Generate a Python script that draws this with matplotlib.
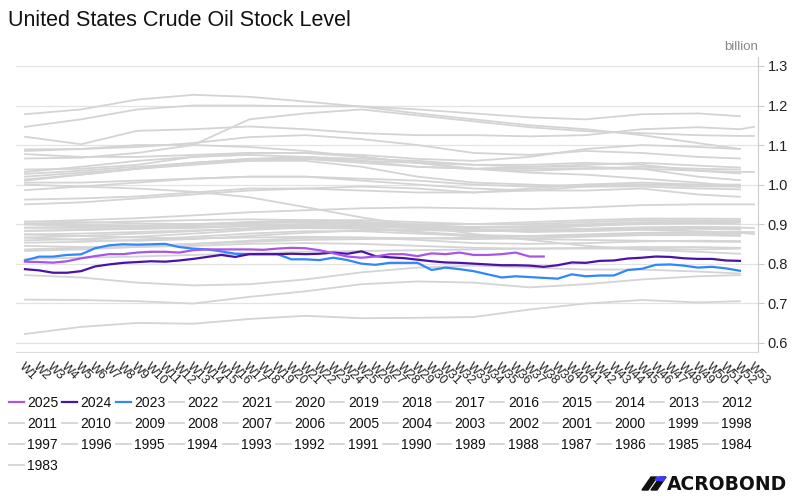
import matplotlib
matplotlib.use("Agg")
import matplotlib.pyplot as plt
from matplotlib.patches import Polygon

plt.rcParams['font.family'] = ['Liberation Sans', 'DejaVu Sans']

# ---------------- data ----------------
weeks = list(range(1, 54))
week_labels = [f"W{w}" for w in weeks]

y2025 = [0.805, 0.804, 0.8025, 0.806, 0.8135, 0.819, 0.824, 0.824, 0.828, 0.830,
         0.830, 0.828, 0.834, 0.836, 0.836, 0.836, 0.836, 0.835, 0.838, 0.840,
         0.839, 0.834, 0.826, 0.818, 0.815, 0.818, 0.824, 0.824, 0.819, 0.826,
         0.824, 0.828, 0.822, 0.822, 0.824, 0.828, 0.818, 0.818]
y2024 = [0.786, 0.783, 0.777, 0.777, 0.781, 0.793, 0.798, 0.802, 0.804, 0.806,
         0.805, 0.808, 0.812, 0.817, 0.822, 0.817, 0.824, 0.824, 0.824, 0.825,
         0.824, 0.825, 0.828, 0.825, 0.831, 0.819, 0.816, 0.814, 0.810, 0.806,
         0.803, 0.802, 0.800, 0.798, 0.796, 0.796, 0.795, 0.792, 0.796, 0.803,
         0.802, 0.807, 0.808, 0.813, 0.815, 0.818, 0.817, 0.8135, 0.812, 0.812,
         0.808, 0.807]
y2023 = [0.808, 0.8177, 0.8177, 0.822, 0.8236, 0.839, 0.8464, 0.849, 0.848, 0.849,
         0.850, 0.842, 0.838, 0.836, 0.831, 0.825, 0.824, 0.824, 0.824, 0.811,
         0.811, 0.809, 0.815, 0.809, 0.800, 0.797, 0.802, 0.802, 0.802, 0.784,
         0.790, 0.786, 0.781, 0.773, 0.765, 0.768, 0.766, 0.764, 0.762, 0.773,
         0.768, 0.770, 0.770, 0.784, 0.787, 0.797, 0.798, 0.795, 0.790, 0.792,
         0.788, 0.782]

# gray years: values read at every fourth week (W1, W5, ... W49, W52) plus W53 where present
sparse_weeks = [1, 5, 9, 13, 17, 21, 25, 29, 33, 37, 41, 45, 49, 52]
g2022 = [1.000, 0.995, 0.990, 0.982, 0.968, 0.943, 0.917, 0.895, 0.875, 0.860, 0.845, 0.835, 0.830, 0.825]
g2021 = [1.085, 1.090, 1.100, 1.100, 1.095, 1.085, 1.070, 1.055, 1.040, 1.030, 1.025, 1.015, 1.005, 0.995]
g2020 = [1.066, 1.068, 1.080, 1.100, 1.165, 1.180, 1.190, 1.175, 1.160, 1.145, 1.135, 1.130, 1.125, 1.123]
g2019 = [1.089, 1.090, 1.095, 1.105, 1.120, 1.125, 1.115, 1.100, 1.080, 1.075, 1.085, 1.080, 1.070, 1.066]
g2018 = [1.077, 1.070, 1.070, 1.075, 1.080, 1.080, 1.075, 1.065, 1.060, 1.070, 1.090, 1.100, 1.095, 1.090]
g2017 = [1.178, 1.190, 1.215, 1.227, 1.222, 1.210, 1.197, 1.180, 1.165, 1.150, 1.140, 1.125, 1.105, 1.090]
g2016 = [1.146, 1.165, 1.190, 1.200, 1.200, 1.198, 1.198, 1.190, 1.180, 1.170, 1.165, 1.178, 1.180, 1.173]
g2015 = [1.121, 1.102, 1.136, 1.140, 1.147, 1.140, 1.130, 1.125, 1.125, 1.122, 1.125, 1.140, 1.145, 1.140]
g2014 = [1.038, 1.040, 1.050, 1.070, 1.075, 1.070, 1.060, 1.045, 1.040, 1.045, 1.050, 1.055, 1.048, 1.043]
g2013 = [1.032, 1.045, 1.060, 1.070, 1.080, 1.080, 1.070, 1.055, 1.040, 1.035, 1.040, 1.045, 1.040, 1.038]
g2012 = [1.013, 1.025, 1.040, 1.055, 1.065, 1.070, 1.065, 1.060, 1.050, 1.050, 1.055, 1.050, 1.035, 1.028]
g2011 = [1.027, 1.035, 1.045, 1.055, 1.060, 1.060, 1.045, 1.020, 1.005, 1.000, 0.995, 0.995, 0.990, 0.988]
g2010 = [1.020, 1.030, 1.040, 1.050, 1.060, 1.065, 1.060, 1.055, 1.050, 1.045, 1.045, 1.040, 1.020, 1.011]
g2009 = [1.010, 1.025, 1.040, 1.055, 1.065, 1.065, 1.055, 1.045, 1.040, 1.040, 1.040, 1.040, 1.035, 1.032]
g2008 = [0.962, 0.965, 0.970, 0.980, 0.990, 0.990, 0.985, 0.980, 0.980, 0.990, 1.000, 1.005, 1.000, 0.995]
g2007 = [0.986, 0.995, 1.005, 1.015, 1.020, 1.020, 1.010, 1.000, 0.990, 0.985, 0.985, 0.990, 0.975, 0.969]
g2006 = [1.005, 1.005, 1.010, 1.015, 1.020, 1.020, 1.015, 1.010, 1.000, 0.995, 1.000, 1.000, 0.995, 0.995]
g2005 = [0.950, 0.955, 0.965, 0.975, 0.985, 0.990, 0.995, 0.990, 0.980, 0.985, 0.995, 1.000, 1.000, 1.000]
g2004 = [0.906, 0.910, 0.915, 0.922, 0.930, 0.935, 0.940, 0.942, 0.940, 0.938, 0.942, 0.948, 0.950, 0.950]
g2003 = [0.866, 0.860, 0.858, 0.862, 0.870, 0.878, 0.884, 0.885, 0.884, 0.888, 0.895, 0.902, 0.905, 0.905]
g2002 = [0.859, 0.862, 0.868, 0.876, 0.885, 0.892, 0.894, 0.890, 0.885, 0.880, 0.882, 0.886, 0.888, 0.886]
g2001 = [0.832, 0.836, 0.842, 0.850, 0.858, 0.865, 0.866, 0.864, 0.862, 0.864, 0.868, 0.872, 0.872, 0.870]
g2000 = [0.845, 0.842, 0.842, 0.845, 0.850, 0.852, 0.850, 0.845, 0.840, 0.838, 0.838, 0.838, 0.836, 0.838]
g1999 = [0.891, 0.893, 0.895, 0.898, 0.900, 0.898, 0.892, 0.880, 0.868, 0.862, 0.860, 0.858, 0.856, 0.855]
g1998 = [0.866, 0.870, 0.876, 0.882, 0.890, 0.895, 0.895, 0.890, 0.884, 0.882, 0.884, 0.886, 0.882, 0.878]
g1997 = [0.853, 0.855, 0.860, 0.868, 0.876, 0.882, 0.882, 0.876, 0.870, 0.868, 0.872, 0.876, 0.876, 0.874]
g1996 = [0.874, 0.870, 0.866, 0.864, 0.866, 0.868, 0.866, 0.860, 0.852, 0.850, 0.852, 0.856, 0.858, 0.857]
g1995 = [0.899, 0.895, 0.892, 0.893, 0.895, 0.895, 0.890, 0.880, 0.872, 0.870, 0.872, 0.876, 0.876, 0.874]
g1994 = [0.900, 0.898, 0.896, 0.900, 0.905, 0.908, 0.905, 0.898, 0.892, 0.892, 0.896, 0.900, 0.902, 0.900]
g1993 = [0.883, 0.885, 0.890, 0.897, 0.905, 0.910, 0.910, 0.905, 0.900, 0.900, 0.905, 0.910, 0.910, 0.908]
g1992 = [0.891, 0.890, 0.888, 0.890, 0.895, 0.900, 0.898, 0.892, 0.885, 0.882, 0.884, 0.890, 0.892, 0.891]
g1991 = [0.906, 0.905, 0.902, 0.900, 0.902, 0.905, 0.902, 0.895, 0.888, 0.885, 0.888, 0.892, 0.893, 0.892]
g1990 = [0.900, 0.903, 0.907, 0.910, 0.912, 0.910, 0.905, 0.900, 0.900, 0.905, 0.910, 0.914, 0.914, 0.913]
g1989 = [0.883, 0.885, 0.888, 0.892, 0.896, 0.900, 0.900, 0.895, 0.893, 0.895, 0.900, 0.905, 0.906, 0.906]
g1988 = [0.874, 0.876, 0.880, 0.884, 0.888, 0.890, 0.888, 0.885, 0.882, 0.884, 0.888, 0.890, 0.890, 0.888]
g1987 = [0.836, 0.840, 0.845, 0.850, 0.855, 0.860, 0.862, 0.864, 0.866, 0.870, 0.874, 0.878, 0.880, 0.880]
g1986 = [0.812, 0.815, 0.818, 0.822, 0.826, 0.830, 0.832, 0.834, 0.836, 0.838, 0.840, 0.842, 0.842, 0.840]
g1985 = [0.771, 0.765, 0.752, 0.745, 0.748, 0.760, 0.778, 0.790, 0.795, 0.790, 0.785, 0.785, 0.780, 0.775]
g1984 = [0.709, 0.708, 0.705, 0.699, 0.716, 0.730, 0.748, 0.755, 0.752, 0.740, 0.748, 0.760, 0.768, 0.771]
g1983 = [0.622, 0.640, 0.650, 0.648, 0.660, 0.668, 0.662, 0.663, 0.665, 0.684, 0.699, 0.708, 0.702, 0.705]
# W53 values for the years that have a 53rd week
w53_values = {2020: 1.123, 2015: 1.146, 2009: 1.032, 2004: 0.950, 1998: 0.875,
              1992: 0.890, 1987: 0.880}

gray_years = list(range(2022, 1982, -1))
gray_series = [g2022, g2021, g2020, g2019, g2018, g2017, g2016, g2015, g2014, g2013,
               g2012, g2011, g2010, g2009, g2008, g2007, g2006, g2005, g2004, g2003,
               g2002, g2001, g2000, g1999, g1998, g1997, g1996, g1995, g1994, g1993,
               g1992, g1991, g1990, g1989, g1988, g1987, g1986, g1985, g1984, g1983]

# ---------------- figure ----------------
W, H = 796, 500
fig = plt.figure(figsize=(W / 100, H / 100), dpi=100)
ax = fig.add_axes([16 / W, 1 - 352 / H, (758 - 16) / W, (352 - 57) / H])

gray_col = '#d4d4d4'
handles = {}
for yr, vals in zip(gray_years, gray_series):
    xs = list(sparse_weeks)
    ys = list(vals)
    if yr in w53_values:
        xs.append(53)
        ys.append(w53_values[yr])
    ln, = ax.plot(xs, ys, color=gray_col, lw=1.3, zorder=2, solid_joinstyle='round')
    handles[yr] = ln

ln, = ax.plot(weeks[:len(y2023)], y2023, color='#2f86ff', lw=1.6, zorder=3)
handles[2023] = ln
ln, = ax.plot(weeks[:len(y2024)], y2024, color='#4a12a8', lw=1.6, zorder=4)
handles[2024] = ln
ln, = ax.plot(weeks[:len(y2025)], y2025, color='#a855e8', lw=1.6, zorder=5)
handles[2025] = ln

ax.set_xlim(0.358, 53.285)
ax.set_ylim(0.5765, 1.3227)
ax.set_yticks([0.6, 0.7, 0.8, 0.9, 1.0, 1.1, 1.2, 1.3])
ax.yaxis.tick_right()
ax.tick_params(axis='y', direction='out', length=4, color='#cccccc', labelsize=10.5,
               labelcolor='#222222', pad=3)
ax.grid(axis='y', color='#e3e3e3', lw=0.9, zorder=0)
ax.set_xticks(weeks)
ax.set_xticklabels(week_labels, rotation=-45, ha='left', va='top',
                   rotation_mode='anchor', fontsize=9, color='#222222')
ax.tick_params(axis='x', length=0, pad=6)
for s in ['top', 'left']:
    ax.spines[s].set_visible(False)
ax.spines['right'].set_color('#cccccc')
ax.spines['bottom'].set_color('#dddddd')

fig.text(8 / W, 1 - 20 / H, "United States Crude Oil Stock Level", fontsize=15.5,
         ha='left', va='center', color='#111111')
fig.text(758 / W, 1 - 47 / H, "billion", fontsize=9.5, ha='right', va='center',
         color='#888888')

# legend: row-major order laid out through column-major filling
legend_years = list(range(2025, 1982, -1))
ncol = 14
order = []
for c in range(ncol):
    r = 0
    while r * ncol + c < len(legend_years):
        order.append(legend_years[r * ncol + c])
        r += 1
leg = fig.legend([handles[y] for y in order], [str(y) for y in order],
                 ncol=ncol, loc='upper left', bbox_to_anchor=(9 / W, 1 - 396 / H),
                 frameon=False, fontsize=10, handlelength=1.05, handletextpad=0.25,
                 columnspacing=0.3, labelspacing=0.5, borderaxespad=0, borderpad=0)
for t in leg.get_texts():
    t.set_color('#111111')

# logo
def fx(px):
    return px / W
def fy(py):
    return 1 - py / H
m1 = Polygon([(fx(642), fy(490)), (fx(651), fy(477)), (fx(657), fy(477)), (fx(648), fy(490))],
             closed=True, transform=fig.transFigure, color='#111111')
m2 = Polygon([(fx(651), fy(490)), (fx(660), fy(477)), (fx(666), fy(477)), (fx(657), fy(490))],
             closed=True, transform=fig.transFigure, color='#111111')
m3 = Polygon([(fx(657), fy(477)), (fx(666), fy(477)), (fx(663), fy(481)), (fx(655), fy(480))],
             closed=True, transform=fig.transFigure, color='#3b3bff')
for p in (m1, m2, m3):
    fig.patches.append(p)
fig.text(fx(667), fy(484), "ACROBOND", fontsize=13.5, fontweight='bold', ha='left',
         va='center', color='#111111', family=['DejaVu Sans'])

fig.savefig("out.png", dpi=100)
